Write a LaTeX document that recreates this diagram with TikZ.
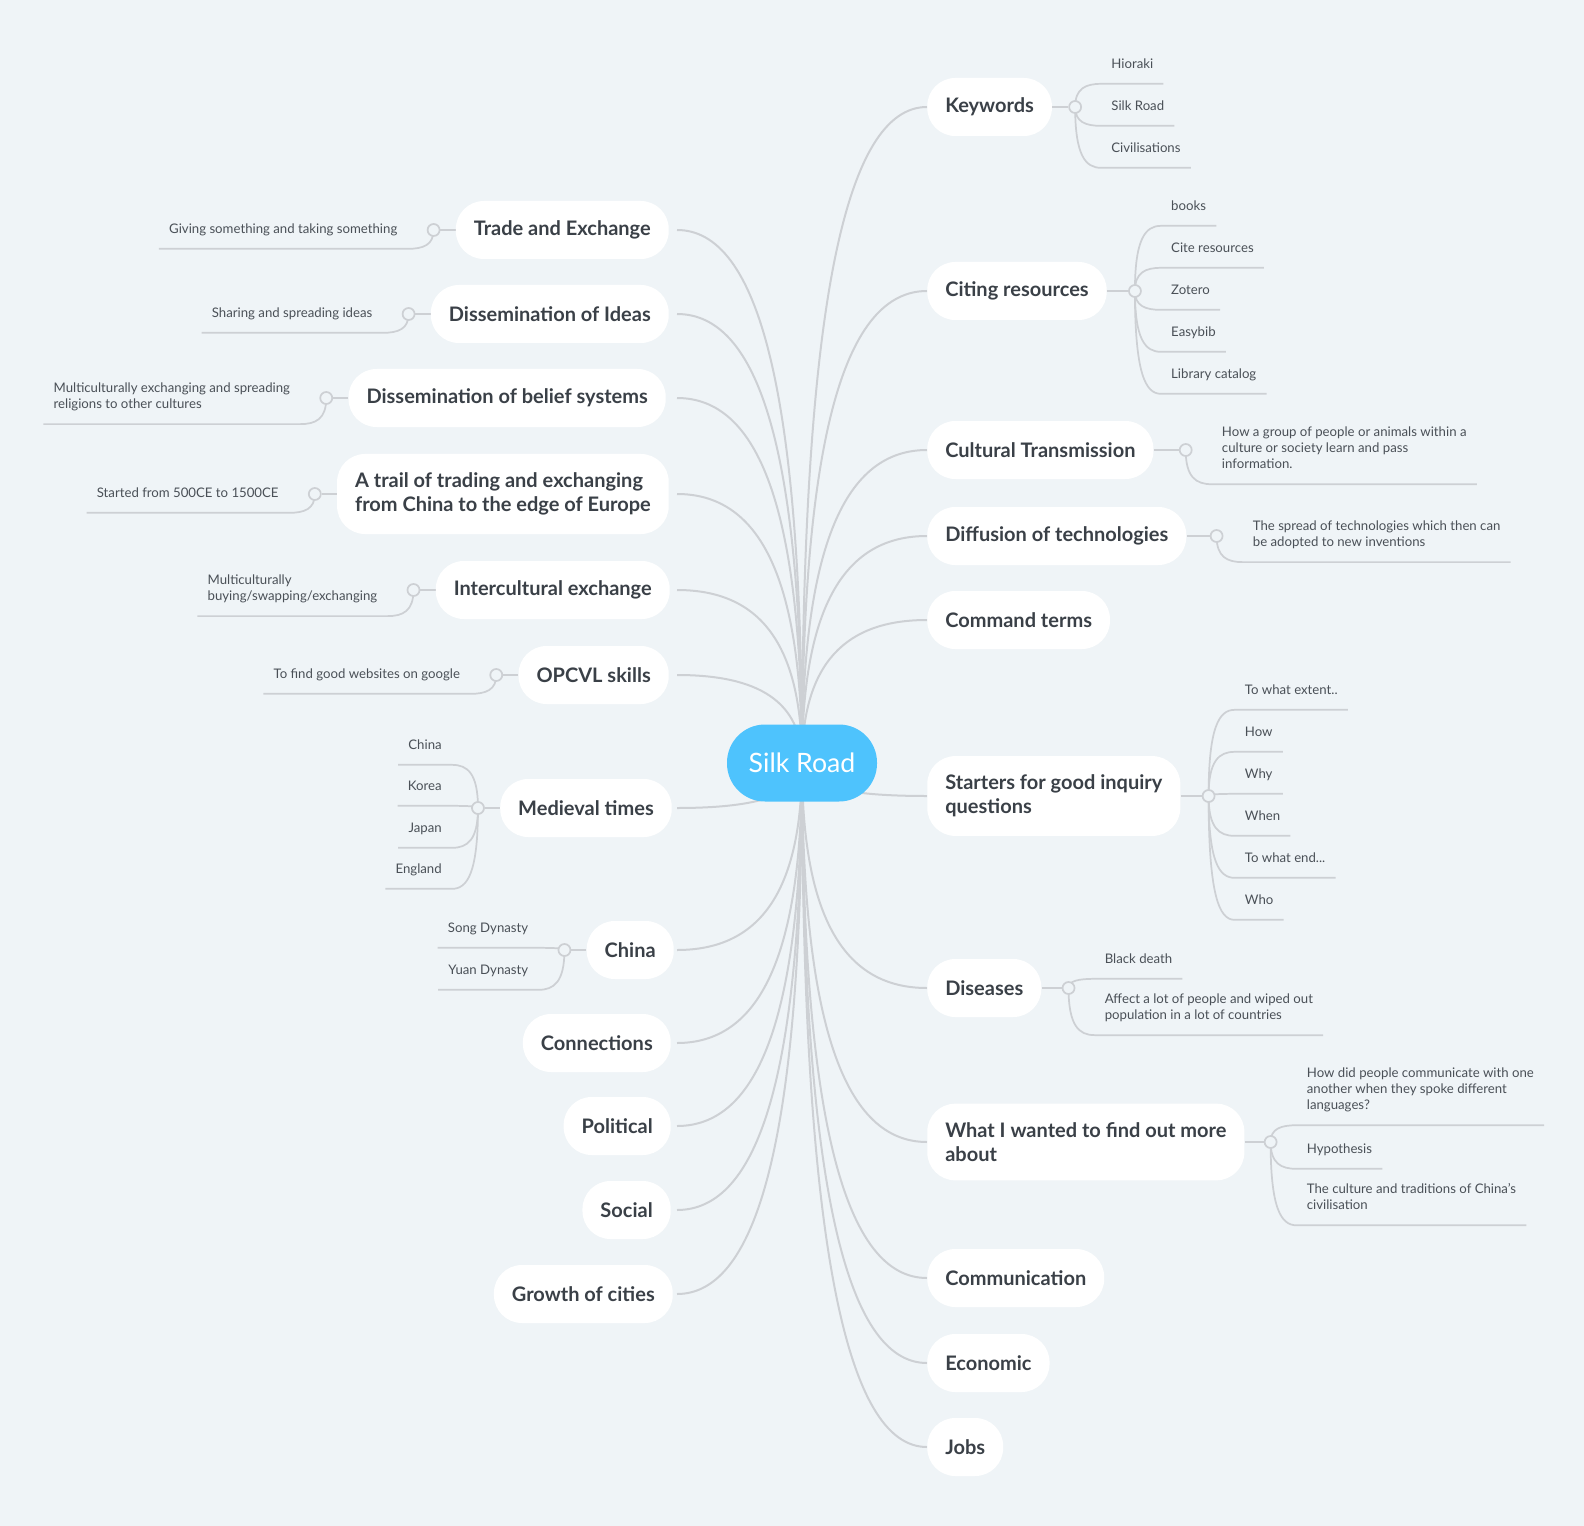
\documentclass[tikz,border=0pt]{standalone}
\usepackage{fontspec}
\setmainfont{Lato}
\usetikzlibrary{calc, positioning}
\definecolor{paper}{HTML}{EFF4F7}
\definecolor{wire}{HTML}{CDD0D4}
\definecolor{ink}{HTML}{3A4047}
\definecolor{slate}{HTML}{4A5057}
\definecolor{sky}{HTML}{4EC3FD}
\pgfdeclarelayer{paperlayer}
\pgfdeclarelayer{wirelayer}
\pgfsetlayers{paperlayer,wirelayer,main}
% curved connector: leaves #1 upright, meets #2 level
\newcommand{\limb}[2]{\draw[limb] (#1) .. controls ($(#1)!0.7!(#1|-#2)$) and ($(#2)!0.65!(#1|-#2)$) .. (#2);}
% knob to leaf, then the underline
\newcommand{\twig}[3]{\draw[twig] (#1) .. controls ($(#1)!0.8!(#1|-#2)$) and ($(#2)!0.6!(#1|-#2)$) .. (#2) -- (#3);}

\begin{document}
\begin{tikzpicture}[x=0.75pt, y=-0.75pt,
    hub/.style={fill=sky, text=white, font=\fontsize{20}{24}\selectfont, rounded corners=28.5pt, minimum width=112.5pt, minimum height=57.75pt, inner sep=0pt},
    topic/.style={fill=white, text=ink, font=\fontsize{15}{18.2}\selectfont\bfseries, rounded corners=21pt, minimum height=43.5pt, inner xsep=13.5pt, inner ysep=14pt, align=left},
    leaf/.style={text=slate, font=\fontsize{9.9}{12.15}\selectfont, inner xsep=7.5pt, inner ysep=7.85pt, align=left, execute at begin node=\strut, execute at end node=\strut},
    knob/.style={circle, draw=wire, fill=paper, line width=1.3pt, minimum size=9pt, inner sep=0pt},
    limb/.style={draw=wire, line width=1.5pt},
    twig/.style={draw=wire, line width=1.3pt}
  ]
    \path[use as bounding box] (0,0) rectangle (1584,1526);
    \begin{pgfonlayer}{paperlayer}
      \fill[paper] (0,0) rectangle (1584,1526);
    \end{pgfonlayer}

    \node[hub] (hub) at (802,763) {Silk Road};

    % right side
    \node[topic, anchor=west] (kw) at (927,107) {Keywords};
    \node[topic, anchor=west] (cr) at (927,291) {Citing resources};
    \node[topic, anchor=west] (ct) at (927,450) {Cultural Transmission};
    \node[topic, anchor=west] (dt) at (927,536) {Diffusion of technologies};
    \node[topic, anchor=west] (cm) at (927,620) {Command terms};
    \node[topic, anchor=west] (sq) at (927,796) {Starters for good inquiry\\questions};
    \node[topic, anchor=west] (ds) at (927,988) {Diseases};
    \node[topic, anchor=west] (wf) at (927,1142) {What I wanted to find out more\\about};
    \node[topic, anchor=west] (co) at (927,1278) {Communication};
    \node[topic, anchor=west] (ec) at (927,1363) {Economic};
    \node[topic, anchor=west] (jb) at (927,1447) {Jobs};

    % left side
    \node[topic, anchor=east] (te) at (669,230) {Trade and Exchange};
    \node[topic, anchor=east] (di) at (669,314) {Dissemination of Ideas};
    \node[topic, anchor=east] (db) at (666,398) {Dissemination of belief systems};
    \node[topic, anchor=east] (tr) at (669,494) {A trail of trading and exchanging\\from China to the edge of Europe};
    \node[topic, anchor=east] (ie) at (670,590) {Intercultural exchange};
    \node[topic, anchor=east] (op) at (669,675) {OPCVL skills};
    \node[topic, anchor=east] (mt) at (672,808) {Medieval times};
    \node[topic, anchor=east] (ch) at (674,950) {China};
    \node[topic, anchor=east] (cn) at (671,1043) {Connections};
    \node[topic, anchor=east] (po) at (671,1126) {Political};
    \node[topic, anchor=east] (so) at (671,1210) {Social};
    \node[topic, anchor=east] (gc) at (673,1294) {Growth of cities};

    % knobs
    \node[knob] (kw0) at ([xshift=17.25pt]kw.east) {};
    \node[knob] (cr0) at ([xshift=21pt]cr.east) {};
    \node[knob] (ct0) at ([xshift=24pt]ct.east) {};
    \node[knob] (dt0) at ([xshift=22.5pt]dt.east) {};
    \node[knob] (sq0) at ([xshift=21pt]sq.east) {};
    \node[knob] (ds0) at ([xshift=20.25pt]ds.east) {};
    \node[knob] (wf0) at ([xshift=19.5pt]wf.east) {};
    \node[knob] (te0) at ([xshift=-16.5pt]te.west) {};
    \node[knob] (di0) at ([xshift=-16.5pt]di.west) {};
    \node[knob] (db0) at ([xshift=-16.5pt]db.west) {};
    \node[knob] (tr0) at ([xshift=-16.5pt]tr.west) {};
    \node[knob] (ie0) at ([xshift=-16.5pt]ie.west) {};
    \node[knob] (op0) at ([xshift=-16.5pt]op.west) {};
    \node[knob] (mt0) at ([xshift=-16.5pt]mt.west) {};
    \node[knob] (ch0) at ([xshift=-16.5pt]ch.west) {};

    % leaves, right
    \node[leaf, anchor=west] (kw1) at ($(kw0)+(26,-42)$) {Hioraki};
    \node[leaf, anchor=west] (kw2) at ($(kw0)+(26,0)$) {Silk Road};
    \node[leaf, anchor=west] (kw3) at ($(kw0)+(26,42)$) {Civilisations};
    \node[leaf, anchor=west] (cr1) at ($(cr0)+(26,-84)$) {books};
    \node[leaf, anchor=west] (cr2) at ($(cr0)+(26,-42)$) {Cite resources};
    \node[leaf, anchor=west] (cr3) at ($(cr0)+(26,0)$) {Zotero};
    \node[leaf, anchor=west] (cr4) at ($(cr0)+(26,42)$) {Easybib};
    \node[leaf, anchor=west] (cr5) at ($(cr0)+(26,84)$) {Library catalog};
    \node[leaf, anchor=west] (ct1) at ($(ct0)+(26,0)$) {How a group of people or animals within a\\culture or society learn and pass\\information.};
    \node[leaf, anchor=west] (dt1) at ($(dt0)+(26,0)$) {The spread of technologies which then can\\be adopted to new inventions};
    \node[leaf, anchor=west] (sq1) at ($(sq0)+(26,-105)$) {To what extent..};
    \node[leaf, anchor=west] (sq2) at ($(sq0)+(26,-63)$) {How};
    \node[leaf, anchor=west] (sq3) at ($(sq0)+(26,-21)$) {Why};
    \node[leaf, anchor=west] (sq4) at ($(sq0)+(26,21)$) {When};
    \node[leaf, anchor=west] (sq5) at ($(sq0)+(26,63)$) {To what end...};
    \node[leaf, anchor=west] (sq6) at ($(sq0)+(26,105)$) {Who};
    \node[leaf, anchor=west] (ds1) at ($(ds0)+(26,-28)$) {Black death};
    \node[leaf, anchor=west] (ds2) at ($(ds0)+(26,21)$) {Affect a lot of people and wiped out\\population in a lot of countries};
    \node[leaf, anchor=west] (wf1) at ($(wf0)+(26,-51)$) {How did people communicate with one\\another when they spoke different\\languages?};
    \node[leaf, anchor=west] (wf2) at ($(wf0)+(26,8)$) {Hypothesis};
    \node[leaf, anchor=west] (wf3) at ($(wf0)+(26,57)$) {The culture and traditions of China's\\civilisation};

    % leaves, left
    \node[leaf, anchor=east] (te1) at ($(te0)+(-26,0)$) {Giving something and taking something};
    \node[leaf, anchor=east] (di1) at ($(di0)+(-26,0)$) {Sharing and spreading ideas};
    \node[leaf, anchor=east] (db1) at ($(db0)+(-26,0)$) {Multiculturally exchanging and spreading\\religions to other cultures};
    \node[leaf, anchor=east] (tr1) at ($(tr0)+(-26,0)$) {Started from 500CE to 1500CE};
    \node[leaf, anchor=east] (ie1) at ($(ie0)+(-26,0)$) {Multiculturally\\buying/swapping/exchanging};
    \node[leaf, anchor=east] (op1) at ($(op0)+(-26,0)$) {To find good websites on google};
    \node[leaf, anchor=east] (mt1) at ($(mt0)+(-26,-62)$) {China};
    \node[leaf, anchor=east] (mt2) at ($(mt0)+(-26,-21)$) {Korea};
    \node[leaf, anchor=east] (mt3) at ($(mt0)+(-26,21)$) {Japan};
    \node[leaf, anchor=east] (mt4) at ($(mt0)+(-26,62)$) {England};
    \node[leaf, anchor=east] (ch1) at ($(ch0)+(-26,-21)$) {Song Dynasty};
    \node[leaf, anchor=east] (ch2) at ($(ch0)+(-26,21)$) {Yuan Dynasty};

    % free ends of the left limbs
    \coordinate (tein) at (677,230);
    \coordinate (diin) at (677,314);
    \coordinate (dbin) at (677,398);
    \coordinate (trin) at (677,494);
    \coordinate (iein) at (677,590);
    \coordinate (opin) at (677,675);
    \coordinate (mtin) at (677,808);
    \coordinate (chin) at (677,950);
    \coordinate (cnin) at (677,1043);
    \coordinate (poin) at (677,1126);
    \coordinate (soin) at (677,1210);
    \coordinate (gcin) at (677,1294);

    \begin{pgfonlayer}{wirelayer}
      % main limbs
      \limb{hub.center}{kw.west}
      \limb{hub.center}{cr.west}
      \limb{hub.center}{ct.west}
      \limb{hub.center}{dt.west}
      \limb{hub.center}{cm.west}
      \limb{hub.center}{sq.west}
      \limb{hub.center}{ds.west}
      \limb{hub.center}{wf.west}
      \limb{hub.center}{co.west}
      \limb{hub.center}{ec.west}
      \limb{hub.center}{jb.west}
      \limb{hub.center}{tein}
      \limb{hub.center}{diin}
      \limb{hub.center}{dbin}
      \limb{hub.center}{trin}
      \limb{hub.center}{iein}
      \limb{hub.center}{opin}
      \limb{hub.center}{mtin}
      \limb{hub.center}{chin}
      \limb{hub.center}{cnin}
      \limb{hub.center}{poin}
      \limb{hub.center}{soin}
      \limb{hub.center}{gcin}

      % stubs
      \draw[twig] (kw.east) -- (kw0);
      \draw[twig] (cr.east) -- (cr0);
      \draw[twig] (ct.east) -- (ct0);
      \draw[twig] (dt.east) -- (dt0);
      \draw[twig] (sq.east) -- (sq0);
      \draw[twig] (ds.east) -- (ds0);
      \draw[twig] (wf.east) -- (wf0);
      \draw[twig] (te.west) -- (te0);
      \draw[twig] (di.west) -- (di0);
      \draw[twig] (db.west) -- (db0);
      \draw[twig] (tr.west) -- (tr0);
      \draw[twig] (ie.west) -- (ie0);
      \draw[twig] (op.west) -- (op0);
      \draw[twig] (mt.west) -- (mt0);
      \draw[twig] (ch.west) -- (ch0);

      % twigs, right
      \twig{kw0.center}{kw1.south west}{kw1.south east}
      \twig{kw0.center}{kw2.south west}{kw2.south east}
      \twig{kw0.center}{kw3.south west}{kw3.south east}
      \twig{cr0.center}{cr1.south west}{cr1.south east}
      \twig{cr0.center}{cr2.south west}{cr2.south east}
      \twig{cr0.center}{cr3.south west}{cr3.south east}
      \twig{cr0.center}{cr4.south west}{cr4.south east}
      \twig{cr0.center}{cr5.south west}{cr5.south east}
      \twig{ct0.center}{ct1.south west}{ct1.south east}
      \twig{dt0.center}{dt1.south west}{dt1.south east}
      \twig{sq0.center}{sq1.south west}{sq1.south east}
      \twig{sq0.center}{sq2.south west}{sq2.south east}
      \twig{sq0.center}{sq3.south west}{sq3.south east}
      \twig{sq0.center}{sq4.south west}{sq4.south east}
      \twig{sq0.center}{sq5.south west}{sq5.south east}
      \twig{sq0.center}{sq6.south west}{sq6.south east}
      \twig{ds0.center}{ds1.south west}{ds1.south east}
      \twig{ds0.center}{ds2.south west}{ds2.south east}
      \twig{wf0.center}{wf1.south west}{wf1.south east}
      \twig{wf0.center}{wf2.south west}{wf2.south east}
      \twig{wf0.center}{wf3.south west}{wf3.south east}

      % twigs, left
      \twig{te0.center}{te1.south east}{te1.south west}
      \twig{di0.center}{di1.south east}{di1.south west}
      \twig{db0.center}{db1.south east}{db1.south west}
      \twig{tr0.center}{tr1.south east}{tr1.south west}
      \twig{ie0.center}{ie1.south east}{ie1.south west}
      \twig{op0.center}{op1.south east}{op1.south west}
      \twig{mt0.center}{mt1.south east}{mt1.south west}
      \twig{mt0.center}{mt2.south east}{mt2.south west}
      \twig{mt0.center}{mt3.south east}{mt3.south west}
      \twig{mt0.center}{mt4.south east}{mt4.south west}
      \twig{ch0.center}{ch1.south east}{ch1.south west}
      \twig{ch0.center}{ch2.south east}{ch2.south west}
    \end{pgfonlayer}
  \end{tikzpicture}
\end{document}
